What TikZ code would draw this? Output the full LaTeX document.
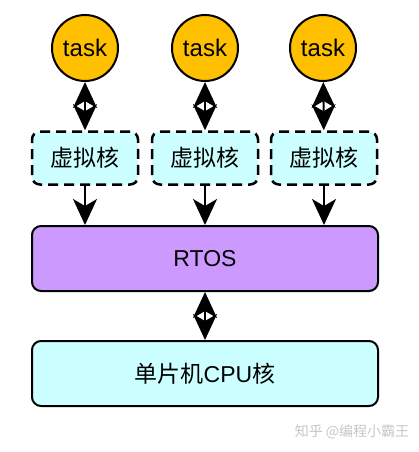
\documentclass[tikz,border=0pt]{standalone}
\usepackage{fontspec}
\setmainfont{Liberation Sans}
\newfontfamily\cjk{Noto Sans CJK SC}
\usetikzlibrary{arrows.meta, positioning}
\definecolor{taskgold}{HTML}{FFC000}
\definecolor{rtosviolet}{HTML}{CC99FF}
\definecolor{corecyan}{HTML}{CCFFFF}

\begin{document}
\begin{tikzpicture}[x=1pt,y=-1pt,
  task/.style={circle,draw,line width=2pt,fill=taskgold,minimum size=66pt,inner sep=0pt,font=\fontsize{24}{26}\selectfont},
  vcore/.style={rectangle,draw,dash pattern=on 10pt off 6pt,line width=2.5pt,rounded corners=8pt,fill=corecyan,minimum width=106pt,minimum height=53pt,font=\fontsize{23}{25}\selectfont\cjk},
  layer/.style={rectangle,draw,line width=2pt,rounded corners=9pt,minimum width=346pt,minimum height=65pt,font=\fontsize{23}{25}\selectfont},
  biarrow/.style={line width=2pt,{Stealth[length=26pt 0,width=24pt 0,inset=7pt 0]}-{Stealth[length=26pt 0,width=24pt 0,inset=7pt 0]}},
  onearrow/.style={line width=2pt,-{Stealth[length=26pt 0,width=24pt 0,inset=7pt 0]}}]
\useasboundingbox (0,0) rectangle (418,452);
% tasks et coeurs virtuels
\node[task] (T1) at (85,48) {task};
\node[task] (T2) at (205,48) {task};
\node[task] (T3) at (323,48) {task};
\node[vcore] (V1) at (85,158) {虚拟核};
\node[vcore] (V2) at (205,158) {虚拟核};
\node[vcore] (V3) at (324,158) {虚拟核};
\node[layer,fill=rtosviolet] (RTOS) at (205,258.5) {RTOS};
\node[layer,fill=corecyan] (CPU) at (205,373.5) {{\cjk 单片机}CPU{\cjk 核}};
\draw[biarrow] (T1) -- (V1);
\draw[biarrow] (T2) -- (V2);
\draw[biarrow] (T3) -- (V3);
\draw[onearrow] (V1) -- (V1 |- RTOS.north);
\draw[onearrow] (V2) -- (RTOS);
\draw[onearrow] (V3) -- (V3 |- RTOS.north);
\draw[biarrow] (RTOS) -- (CPU);
\node[text=gray!45,font=\fontsize{14}{16}\selectfont\cjk] (mark) at (352,432) {知乎 @编程小霸王};
\end{tikzpicture}
\end{document}
